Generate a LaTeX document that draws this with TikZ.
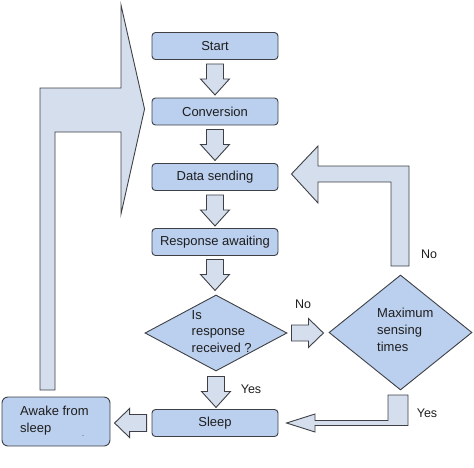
\documentclass[tikz,border=0pt]{standalone}
\usepackage{fontspec}
\setmainfont{Liberation Sans}
\usetikzlibrary{shapes.geometric,calc}
\definecolor{boxfill}{HTML}{BBCFEE}
\definecolor{arrfill}{HTML}{D4DEEC}
\definecolor{edge}{HTML}{3E4045}
\definecolor{ink}{HTML}{1E1E1E}
\tikzset{
  box/.style={draw=edge, fill=boxfill, line width=0.9pt, rounded corners=3.5pt,
    minimum width=126pt, minimum height=27pt, inner sep=0pt, text=ink,
    font=\fontsize{13}{16.5}\selectfont},
  dia/.style={draw=edge, fill=boxfill, line width=0.9pt, diamond, inner sep=0pt},
  txt/.style={text=ink, inner sep=0pt, align=left, font=\fontsize{13}{16.5}\selectfont},
  lbl/.style={text=ink, inner sep=0pt, font=\fontsize{12.5}{15}\selectfont},
  blk/.style={draw=edge, fill=arrfill, line width=0.9pt, line join=miter},
  downarr/.pic={\draw[blk] (-8.5,0) -- (8.5,0) -- (8.5,15) -- (14.5,15) -- (0,31) -- (-14.5,15) -- (-8.5,15) -- cycle;},
  rightarr/.pic={\draw[blk] (0,-8) -- (17,-8) -- (17,-14.5) -- (32,0) -- (17,14.5) -- (17,8) -- (0,8) -- cycle;},
  leftarr/.pic={\draw[blk] (0,-8.5) -- (-17,-8.5) -- (-17,-14.5) -- (-32,0) -- (-17,14.5) -- (-17,8.5) -- (0,8.5) -- cycle;},
}
\begin{document}
\begin{tikzpicture}[x=1pt,y=-1pt]
\useasboundingbox (0,0) rectangle (474,467);
% process boxes
\node[box] (start) at (215,46) {Start};
\node[box] (conv) at (215,111.5) {\raisebox{-3pt}{Conversion}};
\node[box] (data) at (215,177) {Data sending};
\node[box] (resp) at (215,242) {Response awaiting};
\node[box] (sleep) at (215,423) {Sleep};
\node[box, rounded corners=6pt, minimum width=108pt, minimum height=49pt] (awake) at (56,421.5) {};
\node[txt, anchor=west] (awaket) at (20,420.5) {Awake from\\sleep};
\node[inner sep=0pt, text=ink, font=\fontsize{7}{8}\selectfont] (dot) at (83,436) {.};
% decisions
\node[dia, minimum width=142pt, minimum height=76pt] (d1) at (216,333) {};
\node[txt, anchor=west] (d1t) at (191.5,331.5) {Is\\response\\received ?};
\node[dia, minimum width=143pt, minimum height=115pt] (d2) at (400.5,332.5) {};
\node[txt, anchor=west, font=\fontsize{13}{17}\selectfont] (d2t) at (377,330) {Maximum\\sensing\\times};
% straight block arrows
\pic at ($(start.south)+(0,4)$) {downarr};
\pic at ($(conv.south)+(0,4)$) {downarr};
\pic at ($(data.south)+(0,4)$) {downarr};
\pic at ($(resp.south)+(0,3.5)$) {downarr};
\pic at ($(d1.south)+(0,5)$) {downarr};
\pic at ($(d1.east)+(4,0)$) {rightarr};
\pic at ($(sleep.west)+(-5,0)$) {leftarr};
% bent block arrows
\draw[blk] ($(data.east)+(13,-3)$) -- (318,146) -- (318,166) -- (409,166) -- (409,266)
  -- (391,266) -- (391,182) -- (318,182) -- (318,203) -- cycle;
\draw[blk] ($(sleep.west)+(135,0)$) -- (315,414) -- (315,420.5) -- (388,420.5) -- (388,395)
  -- (408,395) -- (408,425.5) -- (315,425.5) -- (315,432) -- cycle;
\draw[blk] (40,390) -- (40,88) -- (121,88) -- (121,5) -- ($(conv.west)+(-7,-2.5)$)
  -- (121,214) -- (121,132) -- (55,132) -- (55,390) -- cycle;
% labels
\node[lbl] (no1) at (429,254) {No};
\node[lbl] (no2) at (303,304) {No};
\node[lbl] (yes1) at (251,389) {Yes};
\node[lbl] (yes2) at (427,413) {Yes};
\end{tikzpicture}
\end{document}
